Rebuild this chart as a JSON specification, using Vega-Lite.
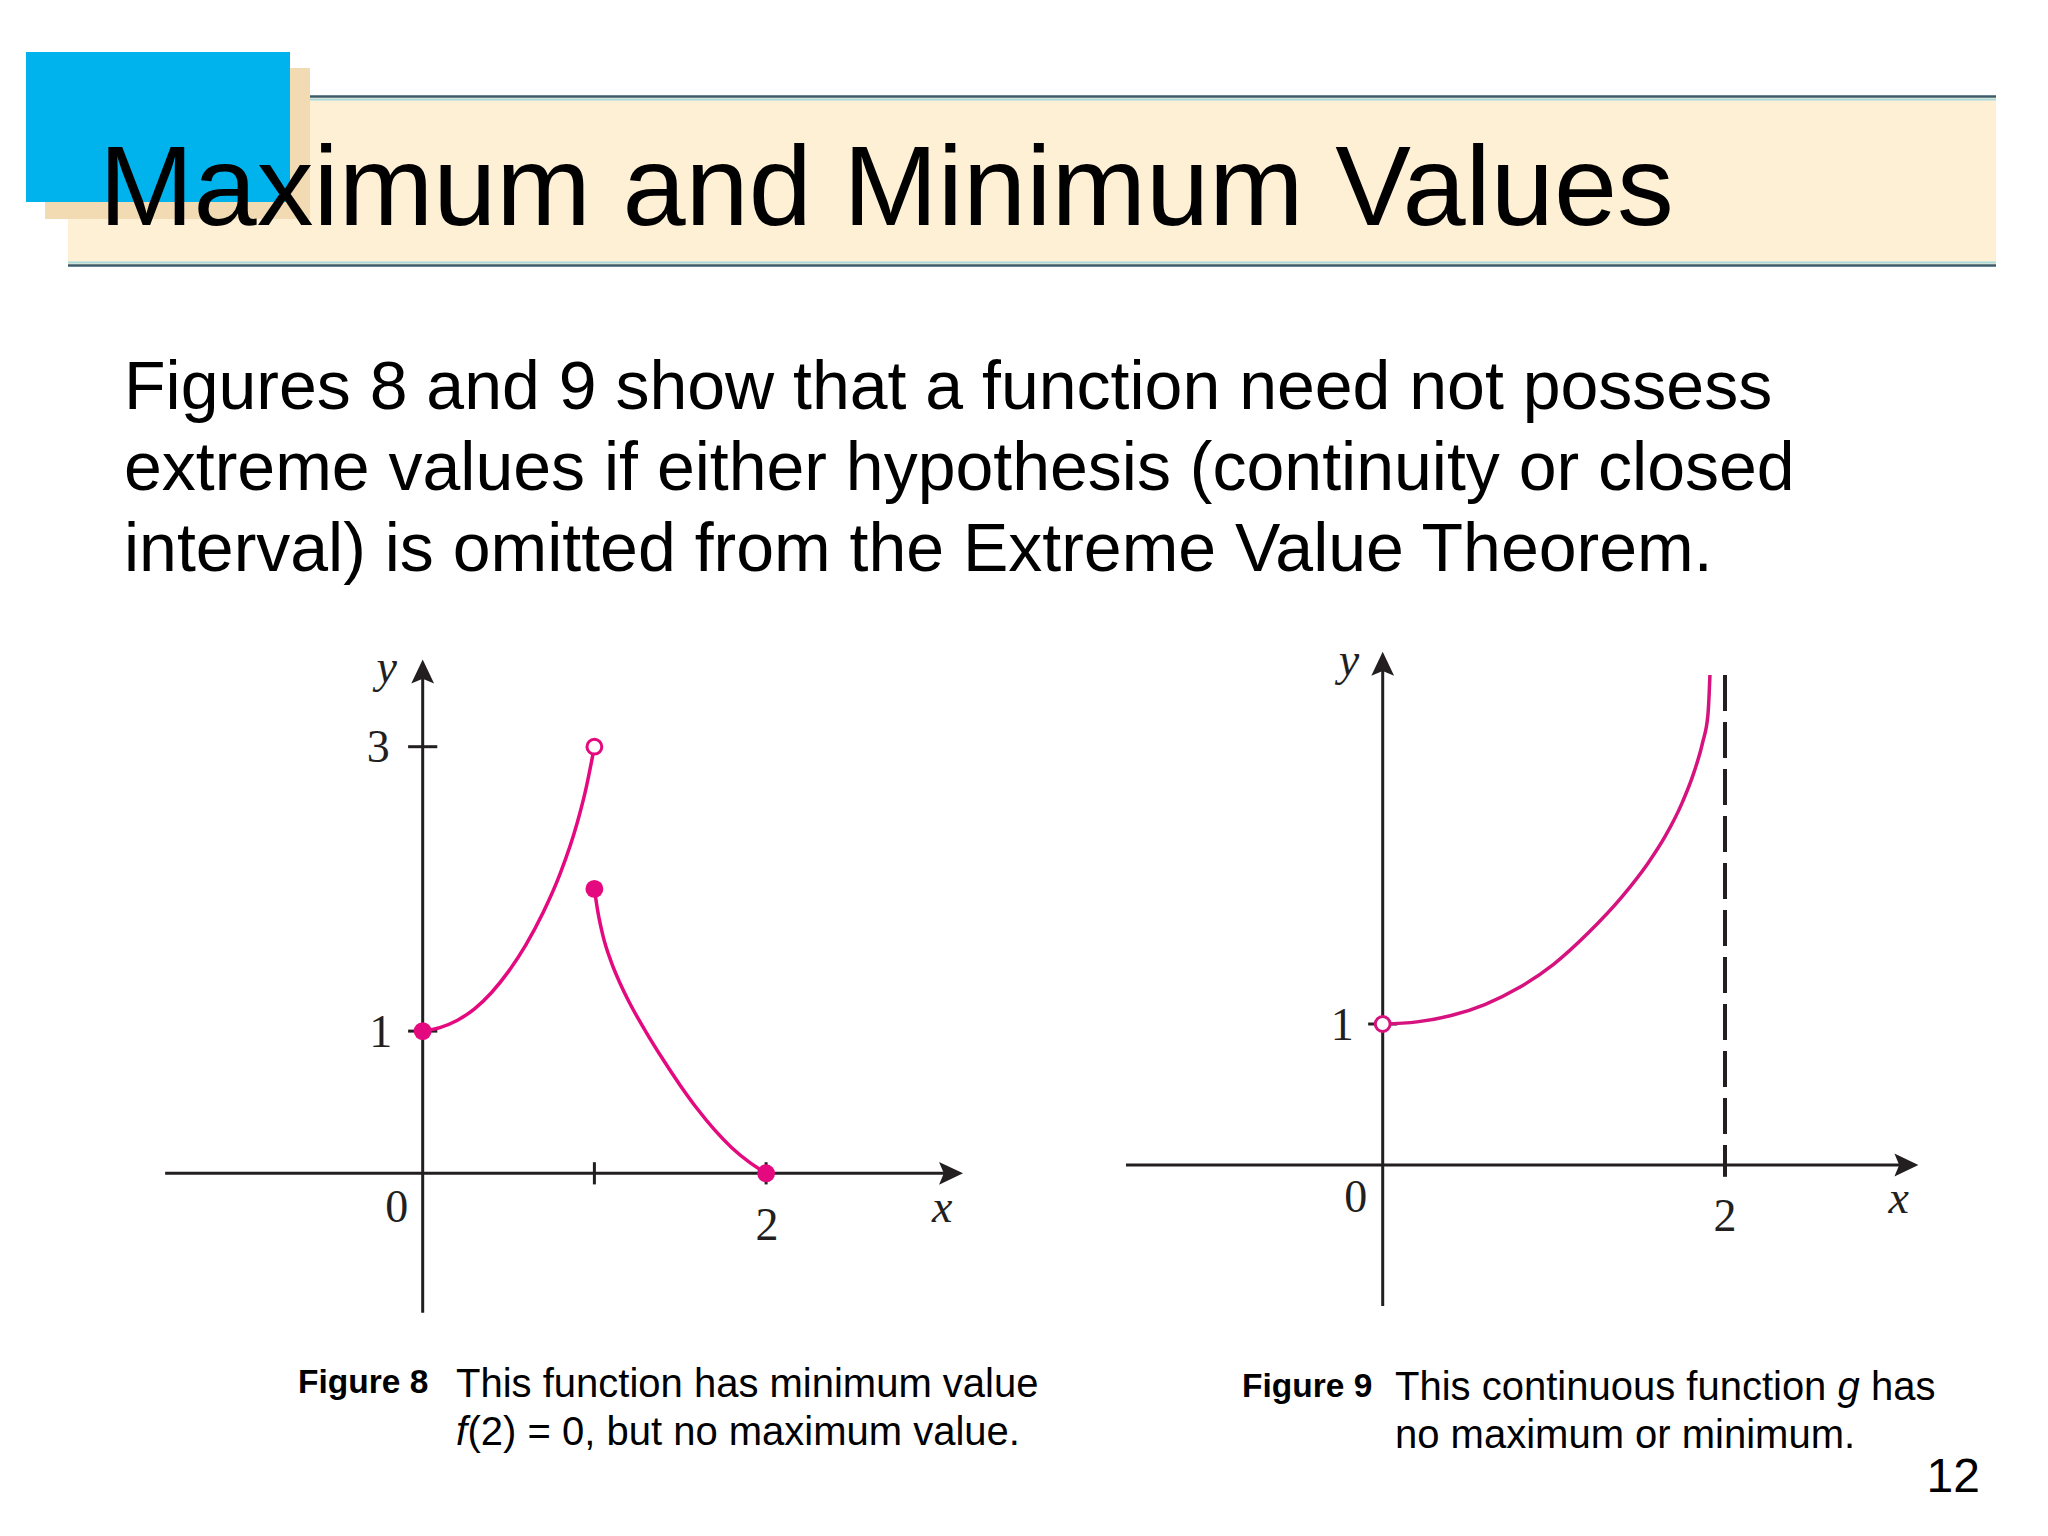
{
  "$schema": "https://vega.github.io/schema/vega-lite/v6.json",
  "width": 2048,
  "height": 1536,
  "autosize": {"type": "fit", "contains": "padding"},
  "padding": 0,
  "background": "#ffffff",
  "config": {"view": {"stroke": null}},
  "datasets": {
    "frame": [{"item": "frame"}],
    "fig8_curve": [
      {"piece": "a", "x": 0, "y": 1.0},
      {"piece": "a", "x": 0.1, "y": 1.025},
      {"piece": "a", "x": 0.2, "y": 1.075},
      {"piece": "a", "x": 0.3, "y": 1.155},
      {"piece": "a", "x": 0.4, "y": 1.27},
      {"piece": "a", "x": 0.5, "y": 1.42},
      {"piece": "a", "x": 0.6, "y": 1.605},
      {"piece": "a", "x": 0.7, "y": 1.83},
      {"piece": "a", "x": 0.8, "y": 2.105},
      {"piece": "a", "x": 0.9, "y": 2.465},
      {"piece": "a", "x": 0.95, "y": 2.7},
      {"piece": "a", "x": 1.0, "y": 3.0},
      {"piece": "b", "x": 1.0, "y": 2.0},
      {"piece": "b", "x": 1.02, "y": 1.84},
      {"piece": "b", "x": 1.05, "y": 1.67},
      {"piece": "b", "x": 1.1, "y": 1.48},
      {"piece": "b", "x": 1.15, "y": 1.335},
      {"piece": "b", "x": 1.2, "y": 1.21},
      {"piece": "b", "x": 1.3, "y": 0.995},
      {"piece": "b", "x": 1.4, "y": 0.8},
      {"piece": "b", "x": 1.5, "y": 0.618},
      {"piece": "b", "x": 1.6, "y": 0.452},
      {"piece": "b", "x": 1.7, "y": 0.305},
      {"piece": "b", "x": 1.8, "y": 0.18},
      {"piece": "b", "x": 1.9, "y": 0.08},
      {"piece": "b", "x": 2.0, "y": 0.0}
    ],
    "fig8_dots": [
      {"x": 0, "y": 1, "kind": "closed"},
      {"x": 1, "y": 2, "kind": "closed"},
      {"x": 2, "y": 0, "kind": "closed"},
      {"x": 1, "y": 3, "kind": "open"}
    ],
    "fig9_curve": [
      {"x": 0, "y": 1.0},
      {"x": 0.2, "y": 1.015},
      {"x": 0.4, "y": 1.06},
      {"x": 0.6, "y": 1.14},
      {"x": 0.8, "y": 1.26},
      {"x": 1.0, "y": 1.425},
      {"x": 1.2, "y": 1.645},
      {"x": 1.4, "y": 1.905},
      {"x": 1.55, "y": 2.14},
      {"x": 1.65, "y": 2.33},
      {"x": 1.75, "y": 2.57},
      {"x": 1.82, "y": 2.79},
      {"x": 1.87, "y": 3.0},
      {"x": 1.9, "y": 3.19},
      {"x": 1.907, "y": 3.33},
      {"x": 1.912, "y": 3.475}
    ],
    "fig9_dots": [
      {"x": 0, "y": 1, "kind": "open"}
    ]
  },
  "layer": [
    {
      "data": {"name": "frame"},
      "layer": [
        {"mark": {"type": "rect", "fill": "#fdf0d5"},
         "encoding": {
           "x": {"datum": 68, "type": "quantitative", "scale": {"domain": [0, 2048], "nice": false, "zero": false}, "axis": null},
           "x2": {"datum": 1996},
           "y": {"datum": 97, "type": "quantitative", "scale": {"domain": [0, 1536], "reverse": true, "nice": false, "zero": false}, "axis": null},
           "y2": {"datum": 265}}},
        {"mark": {"type": "rule", "color": "#3d5c6b", "strokeWidth": 2.5},
         "encoding": {"x": {"datum": 68, "type": "quantitative"}, "x2": {"datum": 1996}, "y": {"datum": 96.5, "type": "quantitative"}}},
        {"mark": {"type": "rule", "color": "#a9dadb", "strokeWidth": 2},
         "encoding": {"x": {"datum": 68, "type": "quantitative"}, "x2": {"datum": 1996}, "y": {"datum": 99.5, "type": "quantitative"}}},
        {"mark": {"type": "rule", "color": "#a9dadb", "strokeWidth": 2},
         "encoding": {"x": {"datum": 68, "type": "quantitative"}, "x2": {"datum": 1996}, "y": {"datum": 262.5, "type": "quantitative"}}},
        {"mark": {"type": "rule", "color": "#3d5c6b", "strokeWidth": 2.5},
         "encoding": {"x": {"datum": 68, "type": "quantitative"}, "x2": {"datum": 1996}, "y": {"datum": 265.5, "type": "quantitative"}}},
        {"mark": {"type": "rect", "fill": "#f2dbb2"},
         "encoding": {"x": {"datum": 45, "type": "quantitative"}, "x2": {"datum": 310}, "y": {"datum": 68, "type": "quantitative"}, "y2": {"datum": 219}}},
        {"mark": {"type": "rect", "fill": "#00b3ed"},
         "encoding": {"x": {"datum": 26, "type": "quantitative"}, "x2": {"datum": 290}, "y": {"datum": 52, "type": "quantitative"}, "y2": {"datum": 202}}},
        {"mark": {"type": "text", "text": "Maximum and Minimum Values", "font": "Liberation Sans", "fontSize": 113.5, "align": "left", "baseline": "alphabetic", "color": "#000000"},
         "encoding": {"x": {"datum": 99, "type": "quantitative"}, "y": {"datum": 225, "type": "quantitative"}}},
        {"mark": {"type": "text", "text": "Figures 8 and 9 show that a function need not possess\nextreme values if either hypothesis (continuity or closed\ninterval) is omitted from the Extreme Value Theorem.", "lineBreak": "\n", "lineHeight": 81, "font": "Liberation Sans", "fontSize": 68, "align": "left", "baseline": "alphabetic", "color": "#000000"},
         "encoding": {"x": {"datum": 124, "type": "quantitative"}, "y": {"datum": 409, "type": "quantitative"}}},
        {"mark": {"type": "text", "text": "Figure 8", "font": "Liberation Sans", "fontWeight": "bold", "fontSize": 33.5, "align": "left", "baseline": "alphabetic", "color": "#000000"},
         "encoding": {"x": {"datum": 298, "type": "quantitative"}, "y": {"datum": 1393, "type": "quantitative"}}},
        {"mark": {"type": "text", "text": "This function has minimum value", "font": "Liberation Sans", "fontSize": 40, "align": "left", "baseline": "alphabetic", "color": "#000000"},
         "encoding": {"x": {"datum": 456, "type": "quantitative"}, "y": {"datum": 1397, "type": "quantitative"}}},
        {"mark": {"type": "text", "text": "f", "font": "Liberation Sans", "fontStyle": "italic", "fontSize": 40, "align": "left", "baseline": "alphabetic", "color": "#000000"},
         "encoding": {"x": {"datum": 456, "type": "quantitative"}, "y": {"datum": 1445, "type": "quantitative"}}},
        {"mark": {"type": "text", "text": "(2) = 0, but no maximum value.", "font": "Liberation Sans", "fontSize": 40, "align": "left", "baseline": "alphabetic", "color": "#000000"},
         "encoding": {"x": {"datum": 467.5, "type": "quantitative"}, "y": {"datum": 1445, "type": "quantitative"}}},
        {"mark": {"type": "text", "text": "Figure 9", "font": "Liberation Sans", "fontWeight": "bold", "fontSize": 33.5, "align": "left", "baseline": "alphabetic", "color": "#000000"},
         "encoding": {"x": {"datum": 1242, "type": "quantitative"}, "y": {"datum": 1397, "type": "quantitative"}}},
        {"mark": {"type": "text", "text": "This continuous function", "font": "Liberation Sans", "fontSize": 40, "align": "left", "baseline": "alphabetic", "color": "#000000"},
         "encoding": {"x": {"datum": 1395, "type": "quantitative"}, "y": {"datum": 1400, "type": "quantitative"}}},
        {"mark": {"type": "text", "text": "g", "font": "Liberation Sans", "fontStyle": "italic", "fontSize": 40, "align": "left", "baseline": "alphabetic", "color": "#000000"},
         "encoding": {"x": {"datum": 1837.6, "type": "quantitative"}, "y": {"datum": 1400, "type": "quantitative"}}},
        {"mark": {"type": "text", "text": "has", "font": "Liberation Sans", "fontSize": 40, "align": "left", "baseline": "alphabetic", "color": "#000000"},
         "encoding": {"x": {"datum": 1870.9, "type": "quantitative"}, "y": {"datum": 1400, "type": "quantitative"}}},
        {"mark": {"type": "text", "text": "no maximum or minimum.", "font": "Liberation Sans", "fontSize": 40, "align": "left", "baseline": "alphabetic", "color": "#000000"},
         "encoding": {"x": {"datum": 1395, "type": "quantitative"}, "y": {"datum": 1448, "type": "quantitative"}}},
        {"mark": {"type": "text", "text": "12", "font": "Liberation Sans", "fontSize": 48, "align": "right", "baseline": "alphabetic", "color": "#000000"},
         "encoding": {"x": {"datum": 1980, "type": "quantitative"}, "y": {"datum": 1492, "type": "quantitative"}}}
      ]
    },
    {
      "layer": [
        {"data": {"name": "frame"},
         "mark": {"type": "rule", "color": "#231f20", "strokeWidth": 3},
         "encoding": {
           "x": {"datum": -1.5, "type": "quantitative", "scale": {"domain": [-2.4618, 9.4659], "nice": false, "zero": false}, "axis": null},
           "x2": {"datum": 3.05},
           "y": {"datum": 0, "type": "quantitative", "scale": {"domain": [-2.5506, 8.2511], "nice": false, "zero": false}, "axis": null}}},
        {"data": {"name": "frame"},
         "mark": {"type": "rule", "color": "#231f20", "strokeWidth": 3},
         "encoding": {"x": {"datum": 0, "type": "quantitative"}, "y": {"datum": -0.98, "type": "quantitative"}, "y2": {"datum": 3.5}}},
        {"data": {"name": "frame"},
         "mark": {"type": "point", "shape": "M0,0 L-2,-0.95 L-1.6,0 L-2,0.95 Z", "size": 576, "filled": true, "color": "#231f20", "opacity": 1, "strokeWidth": 0},
         "encoding": {"x": {"datum": 3.147, "type": "quantitative"}, "y": {"datum": 0, "type": "quantitative"}}},
        {"data": {"name": "frame"},
         "mark": {"type": "point", "shape": "M0,0 L0.95,2 L0,1.6 L-0.95,2 Z", "size": 576, "filled": true, "color": "#231f20", "opacity": 1, "strokeWidth": 0},
         "encoding": {"x": {"datum": 0, "type": "quantitative"}, "y": {"datum": 3.613, "type": "quantitative"}}},
        {"data": {"name": "frame"},
         "mark": {"type": "rule", "color": "#231f20", "strokeWidth": 3},
         "encoding": {"x": {"datum": -0.085, "type": "quantitative"}, "x2": {"datum": 0.085}, "y": {"datum": 3, "type": "quantitative"}}},
        {"data": {"name": "frame"},
         "mark": {"type": "rule", "color": "#231f20", "strokeWidth": 3},
         "encoding": {"x": {"datum": -0.085, "type": "quantitative"}, "x2": {"datum": 0.085}, "y": {"datum": 1, "type": "quantitative"}}},
        {"data": {"name": "frame"},
         "mark": {"type": "rule", "color": "#231f20", "strokeWidth": 3},
         "encoding": {"x": {"datum": 1, "type": "quantitative"}, "y": {"datum": -0.078, "type": "quantitative"}, "y2": {"datum": 0.078}}},
        {"data": {"name": "frame"},
         "mark": {"type": "rule", "color": "#231f20", "strokeWidth": 3},
         "encoding": {"x": {"datum": 2, "type": "quantitative"}, "y": {"datum": -0.078, "type": "quantitative"}, "y2": {"datum": 0.078}}},
        {"data": {"name": "fig8_curve"},
         "mark": {"type": "line", "interpolate": "monotone", "color": "#e4097f", "strokeWidth": 3.5},
         "encoding": {"x": {"field": "x", "type": "quantitative"}, "y": {"field": "y", "type": "quantitative"}, "detail": {"field": "piece"}}},
        {"data": {"name": "fig8_dots"},
         "transform": [{"filter": "datum.kind === 'closed'"}],
         "mark": {"type": "point", "shape": "circle", "filled": true, "color": "#e4097f", "opacity": 1, "size": 320, "strokeWidth": 0},
         "encoding": {"x": {"field": "x", "type": "quantitative"}, "y": {"field": "y", "type": "quantitative"}}},
        {"data": {"name": "fig8_dots"},
         "transform": [{"filter": "datum.kind === 'open'"}],
         "mark": {"type": "point", "shape": "circle", "filled": true, "fill": "#ffffff", "stroke": "#e4097f", "strokeWidth": 3, "opacity": 1, "size": 220},
         "encoding": {"x": {"field": "x", "type": "quantitative"}, "y": {"field": "y", "type": "quantitative"}}},
        {"data": {"name": "frame"},
         "mark": {"type": "text", "text": "3", "font": "Liberation Serif", "fontSize": 46, "align": "right", "baseline": "alphabetic", "dx": -33, "dy": 15.5, "color": "#231f20"},
         "encoding": {"x": {"datum": 0, "type": "quantitative"}, "y": {"datum": 3, "type": "quantitative"}}},
        {"data": {"name": "frame"},
         "mark": {"type": "text", "text": "1", "font": "Liberation Serif", "fontSize": 46, "align": "right", "baseline": "alphabetic", "dx": -30.5, "dy": 15.5, "color": "#231f20"},
         "encoding": {"x": {"datum": 0, "type": "quantitative"}, "y": {"datum": 1, "type": "quantitative"}}},
        {"data": {"name": "frame"},
         "mark": {"type": "text", "text": "0", "font": "Liberation Serif", "fontSize": 46, "align": "center", "baseline": "alphabetic", "dx": -26, "dy": 48.6, "color": "#231f20"},
         "encoding": {"x": {"datum": 0, "type": "quantitative"}, "y": {"datum": 0, "type": "quantitative"}}},
        {"data": {"name": "frame"},
         "mark": {"type": "text", "text": "2", "font": "Liberation Serif", "fontSize": 46, "align": "center", "baseline": "alphabetic", "dx": 1, "dy": 67, "color": "#231f20"},
         "encoding": {"x": {"datum": 2, "type": "quantitative"}, "y": {"datum": 0, "type": "quantitative"}}},
        {"data": {"name": "frame"},
         "mark": {"type": "text", "text": "x", "font": "Liberation Serif", "fontStyle": "italic", "fontSize": 46, "align": "center", "baseline": "alphabetic", "dx": 4.5, "dy": 49, "color": "#231f20"},
         "encoding": {"x": {"datum": 3, "type": "quantitative"}, "y": {"datum": 0, "type": "quantitative"}}},
        {"data": {"name": "frame"},
         "mark": {"type": "text", "text": "y", "font": "Liberation Serif", "fontStyle": "italic", "fontSize": 46, "align": "center", "baseline": "alphabetic", "dx": -36, "dy": 12, "color": "#231f20"},
         "encoding": {"x": {"datum": 0, "type": "quantitative"}, "y": {"datum": 3.54, "type": "quantitative"}}}
      ]
    },
    {
      "layer": [
        {"data": {"name": "frame"},
         "mark": {"type": "rule", "color": "#231f20", "strokeWidth": 3},
         "encoding": {
           "x": {"datum": -1.5, "type": "quantitative", "scale": {"domain": [-8.0789, 3.8872], "nice": false, "zero": false}, "axis": null},
           "x2": {"datum": 3.03},
           "y": {"datum": 0, "type": "quantitative", "scale": {"domain": [-2.6312, 8.2624], "nice": false, "zero": false}, "axis": null}}},
        {"data": {"name": "frame"},
         "mark": {"type": "rule", "color": "#231f20", "strokeWidth": 3},
         "encoding": {"x": {"datum": 0, "type": "quantitative"}, "y": {"datum": -1.0, "type": "quantitative"}, "y2": {"datum": 3.53}}},
        {"data": {"name": "frame"},
         "mark": {"type": "point", "shape": "M0,0 L-2,-0.95 L-1.6,0 L-2,0.95 Z", "size": 576, "filled": true, "color": "#231f20", "opacity": 1, "strokeWidth": 0},
         "encoding": {"x": {"datum": 3.13, "type": "quantitative"}, "y": {"datum": 0, "type": "quantitative"}}},
        {"data": {"name": "frame"},
         "mark": {"type": "point", "shape": "M0,0 L0.95,2 L0,1.6 L-0.95,2 Z", "size": 576, "filled": true, "color": "#231f20", "opacity": 1, "strokeWidth": 0},
         "encoding": {"x": {"datum": 0, "type": "quantitative"}, "y": {"datum": 3.64, "type": "quantitative"}}},
        {"data": {"name": "frame"},
         "mark": {"type": "rule", "color": "#231f20", "strokeWidth": 3},
         "encoding": {"x": {"datum": -0.085, "type": "quantitative"}, "x2": {"datum": 0.085}, "y": {"datum": 1, "type": "quantitative"}}},
        {"data": {"name": "frame"},
         "mark": {"type": "rule", "color": "#231f20", "strokeWidth": 3},
         "encoding": {"x": {"datum": 2, "type": "quantitative"}, "y": {"datum": -0.08, "type": "quantitative"}, "y2": {"datum": 0.08}}},
        {"data": {"name": "frame"},
         "mark": {"type": "rule", "color": "#231f20", "strokeWidth": 4, "strokeDash": [36, 11]},
         "encoding": {"x": {"datum": 2, "type": "quantitative"}, "y": {"datum": 3.475, "type": "quantitative"}, "y2": {"datum": -0.083}}},
        {"data": {"name": "fig9_curve"},
         "mark": {"type": "line", "interpolate": "monotone", "color": "#d6127f", "strokeWidth": 3.5},
         "encoding": {"x": {"field": "x", "type": "quantitative"}, "y": {"field": "y", "type": "quantitative"}}},
        {"data": {"name": "fig9_dots"},
         "mark": {"type": "point", "shape": "circle", "filled": true, "fill": "#ffffff", "stroke": "#d6127f", "strokeWidth": 3, "opacity": 1, "size": 220},
         "encoding": {"x": {"field": "x", "type": "quantitative"}, "y": {"field": "y", "type": "quantitative"}}},
        {"data": {"name": "frame"},
         "mark": {"type": "text", "text": "1", "font": "Liberation Serif", "fontSize": 46, "align": "right", "baseline": "alphabetic", "dx": -29, "dy": 15.5, "color": "#231f20"},
         "encoding": {"x": {"datum": 0, "type": "quantitative"}, "y": {"datum": 1, "type": "quantitative"}}},
        {"data": {"name": "frame"},
         "mark": {"type": "text", "text": "0", "font": "Liberation Serif", "fontSize": 46, "align": "center", "baseline": "alphabetic", "dx": -27, "dy": 46.5, "color": "#231f20"},
         "encoding": {"x": {"datum": 0, "type": "quantitative"}, "y": {"datum": 0, "type": "quantitative"}}},
        {"data": {"name": "frame"},
         "mark": {"type": "text", "text": "2", "font": "Liberation Serif", "fontSize": 46, "align": "center", "baseline": "alphabetic", "dx": 0, "dy": 66, "color": "#231f20"},
         "encoding": {"x": {"datum": 2, "type": "quantitative"}, "y": {"datum": 0, "type": "quantitative"}}},
        {"data": {"name": "frame"},
         "mark": {"type": "text", "text": "x", "font": "Liberation Serif", "fontStyle": "italic", "fontSize": 46, "align": "center", "baseline": "alphabetic", "dx": 2.5, "dy": 48.4, "color": "#231f20"},
         "encoding": {"x": {"datum": 3, "type": "quantitative"}, "y": {"datum": 0, "type": "quantitative"}}},
        {"data": {"name": "frame"},
         "mark": {"type": "text", "text": "y", "font": "Liberation Serif", "fontStyle": "italic", "fontSize": 46, "align": "center", "baseline": "alphabetic", "dx": -33.7, "dy": 12, "color": "#231f20"},
         "encoding": {"x": {"datum": 0, "type": "quantitative"}, "y": {"datum": 3.56, "type": "quantitative"}}}
      ]
    }
  ],
  "resolve": {"scale": {"x": "independent", "y": "independent"}}
}
